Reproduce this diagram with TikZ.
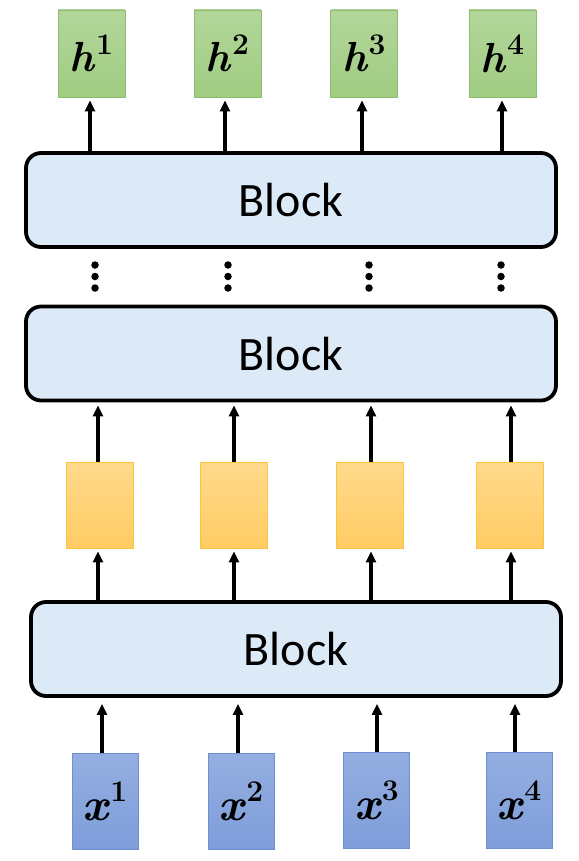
\documentclass[tikz,border=0pt]{standalone}
\usepackage{fontspec}
\newfontfamily\blockfont{Carlito}
\usetikzlibrary{arrows.meta}
\newcommand{\supvar}[2]{\textbf{\textit{#1}}\raisebox{0.42em}{\fontsize{30}{32}\selectfont\textbf{#2}}}
\definecolor{blockfill}{RGB}{220,234,248}
\definecolor{hborder}{RGB}{140,190,110}
\definecolor{htop}{RGB}{178,214,154}
\definecolor{hbot}{RGB}{160,204,130}
\definecolor{ytop}{RGB}{255,218,140}
\definecolor{ybot}{RGB}{255,204,100}
\definecolor{yborder}{RGB}{250,196,60}
\definecolor{xtop}{RGB}{148,174,224}
\definecolor{xbot}{RGB}{126,157,218}
\definecolor{xborder}{RGB}{112,142,212}
\tikzset{
  blockbox/.style={draw=black, line width=3.8pt, rounded corners=15pt, fill=blockfill,
    minimum width=530pt, minimum height=94pt, inner sep=0pt,
    font=\blockfont\fontsize{48}{56}\selectfont},
  hbox/.style={draw=hborder, line width=0.8pt, top color=htop, bottom color=hbot,
    minimum width=67pt, minimum height=87pt, inner sep=0pt,
    font=\fontsize{42}{50}\selectfont},
  ybox/.style={draw=yborder, line width=0.8pt, top color=ytop, bottom color=ybot,
    minimum width=67pt, minimum height=86pt, inner sep=0pt},
  xbox/.style={draw=xborder, line width=0.8pt, top color=xtop, bottom color=xbot,
    minimum width=66pt, minimum height=96pt, inner sep=0pt,
    font=\fontsize{46}{54}\selectfont},
  arr/.style={line width=3.4pt, -{Triangle[length=11pt,width=10pt]}, shorten >=3pt},
  vdot/.style={circle, fill=black, inner sep=0pt, minimum size=7.5pt}
}
\begin{document}
\begin{tikzpicture}[x=1pt,y=-1pt]
\useasboundingbox (0,0) rectangle (578,861);
% output boxes
\node[hbox] (h1) at (91.5,53.5) {\supvar{h}{1}};
\node[hbox] (h2) at (227.5,53.5) {\supvar{h}{2}};
\node[hbox] (h3) at (364,53.5) {\supvar{h}{3}};
\node[hbox] (h4) at (502.5,53.5) {\supvar{h}{4}};
% blocks
\node[blockbox] (b1) at (291,200) {Block};
\node[blockbox] (b2) at (291,353.5) {Block};
\node[blockbox] (b3) at (296,649) {Block};
% yellow boxes
\node[ybox] (y1) at (99.5,505) {};
\node[ybox] (y2) at (233.5,505) {};
\node[ybox] (y3) at (370,505) {};
\node[ybox] (y4) at (509.5,505) {};
% input boxes
\node[xbox] (x1) at (105,801) {\supvar{x}{1}};
\node[xbox] (x2) at (241,801) {\supvar{x}{2}};
\node[xbox] (x3) at (376.5,800) {\supvar{x}{3}};
\node[xbox] (x4) at (519,800) {\supvar{x}{4}};
% arrows
\foreach \i/\xx in {1/90,2/225,3/362,4/502}{
  \coordinate (t\i) at (\xx,0);
  \draw[arr] (t\i |- b1.north) -- (t\i |- h\i.south);
}
\foreach \i/\xx in {1/98,2/234,3/371,4/511}{
  \coordinate (m\i) at (\xx,0);
  \draw[arr] (m\i |- y\i.north) -- (m\i |- b2.south);
  \draw[arr] (m\i |- b3.north) -- (m\i |- y\i.south);
}
\foreach \i/\xx in {1/102,2/238,3/377,4/515}{
  \coordinate (n\i) at (\xx,0);
  \draw[arr, shorten >=6pt] (n\i |- x\i.north) -- (n\i |- b3.south);
}
% vertical dots
\foreach \i/\xx in {1/95,2/228,3/369,4/501}{
  \node[vdot] (d\i a) at (\xx,265) {};
  \node[vdot] (d\i b) at (\xx,276.5) {};
  \node[vdot] (d\i c) at (\xx,288) {};
}
\end{tikzpicture}
\end{document}
